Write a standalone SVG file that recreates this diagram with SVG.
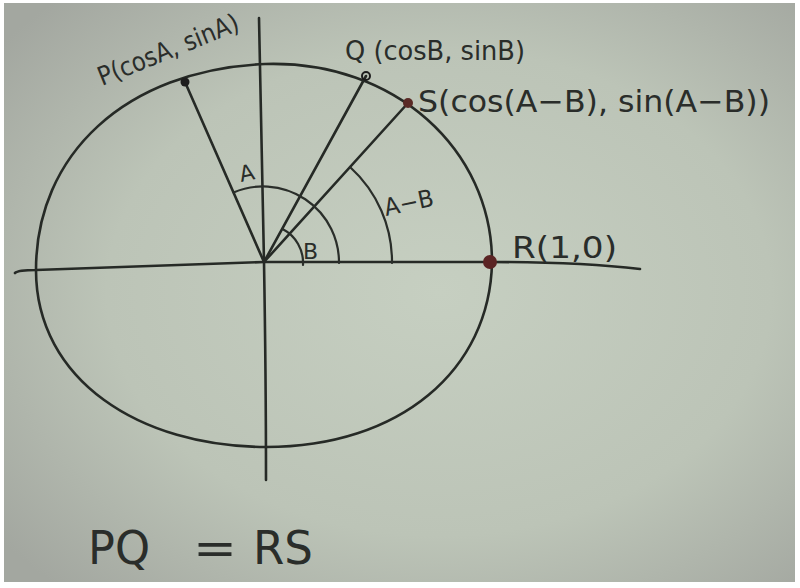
<svg xmlns="http://www.w3.org/2000/svg" width="800" height="588" viewBox="0 0 800 588">
<defs>
<radialGradient id="bg" cx="0.55" cy="0.5" r="0.7">
<stop offset="0" stop-color="#c6cfc1"/>
<stop offset="0.6" stop-color="#bcc4b7"/>
<stop offset="1" stop-color="#a3a7a0"/>
</radialGradient>
<style>
.ink{fill:none;stroke:#262a26;stroke-width:2.6;stroke-linecap:round;stroke-linejoin:round}
.thin{fill:none;stroke:#2a2e2a;stroke-width:2.2;stroke-linecap:round}
.lbl{font-family:"DejaVu Sans","Liberation Sans",sans-serif;fill:#2a2d2a}
</style>
</defs>
<rect width="800" height="588" fill="#ffffff"/>
<rect x="4" y="3" width="791" height="579" fill="url(#bg)"/>

<g id="axes">
<path class="ink" d="M15 273 Q 18 270 36 270 L 264 262 L 490 262 Q 580 262 640 269"/>
<path class="ink" d="M259 18 Q 262 150 264 262 Q 266 380 266 480"/>
</g>

<g id="circle">
<path class="ink" d="M36 270 C 36 155, 125 70, 265 64 C 395 60, 492 150, 492 262 C 490 370, 400 447, 266 447 C 140 447, 36 380, 36 270 Z"/>
</g>

<g id="connectors">
<line class="ink" x1="264" y1="262" x2="185" y2="82"/>
<line class="ink" x1="264" y1="262" x2="366" y2="76"/>
<line class="ink" x1="264" y1="262" x2="408" y2="103"/>
<path class="thin" d="M233.5 192.4 A 76 76 0 0 1 339 263"/>
<path class="thin" d="M282.5 229 A 38 38 0 0 1 303 265"/>
<path class="thin" d="M350 167 A 128 128 0 0 1 392 263"/>
</g>

<g id="P">
<circle cx="185" cy="82" r="4.5" fill="#1e1e1e"/>
<text class="lbl" x="0" y="0" font-size="26" textLength="150" lengthAdjust="spacingAndGlyphs" transform="translate(102 86) rotate(-22)">P(cosA, sinA)</text>
</g>
<g id="Q">
<circle cx="366" cy="76" r="4" fill="none" stroke="#1e1e1e" stroke-width="2"/>
<text class="lbl" x="345" y="60" font-size="26" textLength="180" lengthAdjust="spacingAndGlyphs">Q (cosB, sinB)</text>
</g>
<g id="S">
<circle cx="408" cy="103" r="5" fill="#5a2a26"/>
<text class="lbl" x="418" y="112" font-size="31" textLength="352" lengthAdjust="spacingAndGlyphs">S(cos(A−B), sin(A−B))</text>
</g>
<g id="R">
<circle cx="490" cy="262" r="7" fill="#5b2424"/>
<text class="lbl" x="512" y="258" font-size="31" textLength="105" lengthAdjust="spacingAndGlyphs">R(1,0)</text>
</g>
<g id="angles">
<text class="lbl" x="0" y="0" font-size="22" transform="translate(241 182) rotate(-12)">A</text>
<text class="lbl" x="303" y="259" font-size="22">B</text>
<text class="lbl" x="0" y="0" font-size="24" textLength="50" lengthAdjust="spacingAndGlyphs" transform="translate(386 216) rotate(-12)">A−B</text>
</g>
<g id="equation">
<text class="lbl" x="88" y="564" font-size="46" textLength="62" lengthAdjust="spacingAndGlyphs">PQ</text>
<text class="lbl" x="193" y="564" font-size="46" textLength="44" lengthAdjust="spacingAndGlyphs">=</text>
<text class="lbl" x="253" y="564" font-size="46" textLength="60" lengthAdjust="spacingAndGlyphs">RS</text>
</g>
</svg>
